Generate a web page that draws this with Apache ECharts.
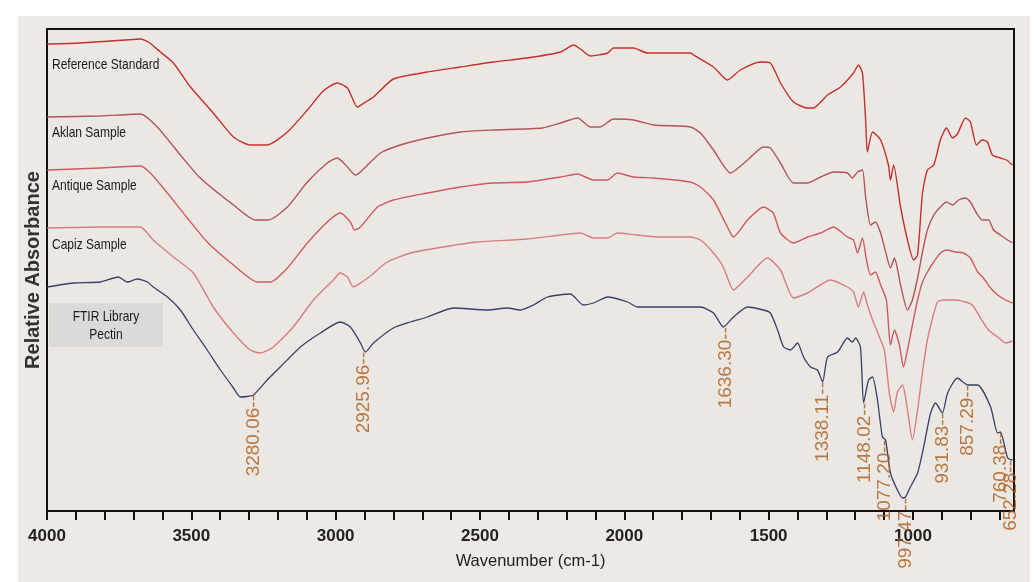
<!DOCTYPE html>
<html><head><meta charset="utf-8">
<script src="https://cdn.jsdelivr.net/npm/echarts@6/dist/echarts.min.js"></script>
<style>html,body{margin:0;padding:0;background:#fff}#c{width:1034px;height:582px}</style>
</head><body><div id="c"></div>
<script>
// FTIR spectra: [wavenumber cm-1, relative absorbance (arbitrary, stacked)]
const refStandard = [[3999,4.67],[3885,4.68],[3781,4.70],[3729,4.71],[3677,4.72],[3649,4.69],[3607,4.59],[3562,4.48],[3503,4.24],[3424,3.98],[3354,3.74],[3296,3.66],[3237,3.66],[3167,3.79],[3098,4.01],[3043,4.20],[2994,4.28],[2959,4.23],[2925,4.04],[2907,4.07],[2869,4.14],[2800,4.32],[2682,4.39],[2568,4.44],[2453,4.49],[2336,4.53],[2221,4.59],[2176,4.66],[2152,4.62],[2117,4.55],[2058,4.58],[2038,4.63],[1968,4.63],[1920,4.58],[1771,4.58],[1760,4.56],[1691,4.44],[1643,4.31],[1598,4.41],[1528,4.49],[1494,4.48],[1459,4.28],[1414,4.09],[1365,4.03],[1345,4.03],[1296,4.16],[1251,4.24],[1206,4.38],[1189,4.46],[1175,4.38],[1164,3.91],[1158,3.59],[1140,3.79],[1112,3.71],[1085,3.46],[1078,3.31],[1067,3.46],[1043,3.04],[1019,2.71],[998,2.51],[984,2.56],[967,3.18],[950,3.41],[928,3.46],[905,3.71],[884,3.83],[863,3.73],[846,3.77],[818,3.93],[801,3.89],[780,3.66],[760,3.71],[742,3.69],[725,3.56],[697,3.53],[676,3.51],[655,3.46]];
const aklanSample = [[3999,3.94],[3815,3.95],[3677,3.97],[3618,3.84],[3538,3.56],[3469,3.33],[3354,3.06],[3278,2.91],[3233,2.91],[3167,3.04],[3098,3.29],[3029,3.48],[2994,3.53],[2959,3.44],[2932,3.36],[2914,3.39],[2845,3.58],[2776,3.66],[2682,3.73],[2568,3.79],[2453,3.81],[2284,3.83],[2221,3.88],[2162,3.93],[2117,3.84],[2083,3.84],[2038,3.92],[1968,3.91],[1899,3.86],[1771,3.84],[1736,3.78],[1691,3.61],[1632,3.38],[1573,3.51],[1518,3.64],[1494,3.63],[1459,3.48],[1414,3.28],[1365,3.28],[1320,3.34],[1275,3.39],[1227,3.38],[1210,3.33],[1192,3.39],[1175,3.41],[1164,3.14],[1147,2.86],[1130,2.89],[1112,2.78],[1092,2.56],[1078,2.43],[1064,2.53],[1043,2.26],[1019,2.01],[1002,2.11],[984,2.33],[967,2.59],[950,2.81],[928,2.96],[905,3.04],[884,3.09],[863,3.06],[842,3.11],[818,3.13],[801,3.09],[780,2.98],[760,2.91],[738,2.91],[721,2.81],[697,2.76],[672,2.71],[655,2.68]];
const antiqueSample = [[3999,3.41],[3815,3.43],[3677,3.45],[3642,3.38],[3583,3.18],[3514,2.93],[3445,2.69],[3354,2.46],[3271,2.29],[3226,2.29],[3167,2.43],[3098,2.68],[3029,2.89],[2984,2.98],[2949,2.89],[2935,2.81],[2914,2.84],[2855,3.04],[2800,3.11],[2682,3.18],[2568,3.24],[2453,3.28],[2336,3.29],[2266,3.32],[2221,3.34],[2162,3.37],[2107,3.31],[2058,3.31],[2024,3.38],[1968,3.34],[1899,3.33],[1771,3.29],[1736,3.24],[1691,3.11],[1643,2.84],[1622,2.74],[1573,2.91],[1518,3.04],[1484,2.98],[1459,2.78],[1414,2.68],[1365,2.74],[1320,2.78],[1275,2.84],[1227,2.74],[1206,2.71],[1192,2.58],[1175,2.73],[1161,2.51],[1147,2.36],[1130,2.39],[1112,2.26],[1092,2.11],[1078,1.66],[1064,1.81],[1047,1.66],[1033,1.44],[1019,1.61],[1002,1.86],[984,2.11],[967,2.29],[950,2.39],[928,2.49],[905,2.58],[884,2.61],[853,2.59],[825,2.58],[801,2.53],[776,2.39],[756,2.33],[731,2.23],[707,2.16],[679,2.11],[655,2.08]];
const capizSample = [[3999,2.83],[3815,2.84],[3677,2.84],[3632,2.71],[3562,2.54],[3493,2.38],[3424,2.04],[3354,1.78],[3296,1.61],[3261,1.58],[3216,1.64],[3147,1.84],[3077,2.11],[3008,2.31],[2984,2.38],[2959,2.34],[2939,2.24],[2914,2.28],[2880,2.35],[2821,2.49],[2741,2.58],[2627,2.64],[2509,2.69],[2336,2.72],[2221,2.76],[2152,2.78],[2107,2.73],[2058,2.73],[2024,2.78],[1955,2.76],[1875,2.74],[1771,2.74],[1736,2.71],[1691,2.58],[1657,2.44],[1622,2.21],[1573,2.34],[1504,2.53],[1459,2.41],[1414,2.13],[1365,2.18],[1286,2.31],[1227,2.24],[1206,2.19],[1189,2.04],[1171,2.19],[1158,2.06],[1140,1.91],[1119,1.76],[1099,1.61],[1081,1.16],[1067,0.99],[1054,1.19],[1036,1.26],[1019,1.01],[1002,0.71],[984,1.01],[967,1.39],[950,1.71],[932,1.93],[915,2.09],[894,2.11],[853,2.11],[818,2.09],[794,2.06],[766,1.93],[738,1.81],[707,1.74],[679,1.68],[655,1.70]];
const libraryPectin = [[3999,2.24],[3909,2.28],[3815,2.29],[3753,2.34],[3722,2.29],[3687,2.32],[3652,2.29],[3632,2.24],[3583,2.14],[3538,2.01],[3493,1.81],[3445,1.61],[3399,1.41],[3354,1.23],[3330,1.14],[3285,1.16],[3237,1.31],[3192,1.44],[3122,1.64],[3053,1.78],[2984,1.89],[2949,1.84],[2914,1.68],[2897,1.59],[2869,1.68],[2800,1.83],[2741,1.89],[2682,1.94],[2592,2.03],[2474,2.01],[2405,2.03],[2360,2.01],[2315,2.06],[2266,2.14],[2187,2.17],[2142,2.06],[2107,2.08],[2058,2.14],[1989,2.09],[1955,2.04],[1771,2.04],[1736,2.04],[1691,1.98],[1657,1.84],[1622,1.94],[1573,2.04],[1518,2.01],[1494,1.98],[1469,1.81],[1448,1.64],[1424,1.61],[1400,1.68],[1379,1.54],[1355,1.44],[1331,1.41],[1313,1.29],[1296,1.54],[1261,1.59],[1227,1.73],[1210,1.69],[1199,1.73],[1182,1.64],[1171,1.08],[1154,1.31],[1140,1.34],[1123,1.11],[1106,0.74],[1095,0.71],[1078,0.38],[1054,0.21],[1036,0.13],[1026,0.14],[1009,0.24],[984,0.38],[963,0.64],[939,0.98],[922,1.08],[898,0.98],[880,1.18],[846,1.33],[811,1.26],[776,1.26],[731,1.04],[707,0.78],[697,0.79],[672,0.53],[655,0.51]];

const peakText = ['3280.06','2925.96','1636.30','1338.11','1148.02','1077.20','997.47','931.83','857.29','760.38','652.28'];
const peakWn   = [3285, 2904, 1650, 1313, 1168, 1099, 1026, 898, 811, 697, 662];
const peakVal  = [1.16, 1.59, 1.84, 1.29, 1.08, 0.71, 0.13, 0.98, 1.26, 0.79, 0.51];

const seriesNames = ['Reference Standard','Aklan Sample','Antique Sample','Capiz Sample','FTIR Library Pectin'];
const seriesData = [refStandard, aklanSample, antiqueSample, capizSample, libraryPectin];
const seriesColors = ['#c62f2c','#b3535a','#cf5a5e','#d77d82','#3a3f6a'];

const majorTicks = [4000,3500,3000,2500,2000,1500,1000];
const minorTicks = [];
for (let w = 4000; w >= 700; w -= 100) minorTicks.push(w);

const SANS = "'Liberation Sans',Arial,sans-serif";

const chart = echarts.init(document.getElementById('c'), null, {renderer:'canvas'});
const series = seriesData.map((d,i)=>({
  name: seriesNames[i], type:'line', data:d, showSymbol:false, symbol:'none', smooth:0.2,
  lineStyle:{color:seriesColors[i], width: i===4?1.3:1.4}, z:3, animation:false
}));
series.push({
  type:'scatter', symbolSize:0, z:5, animation:false,
  data: peakWn.map((w,i)=>[w, peakVal[i], peakText[i]]),
  label:{show:true, position:'inside', rotate:90, align:'right', verticalAlign:'middle',
    formatter:p=>p.data[2]+'--', color:'#ab5a17', fontSize:19, fontFamily:SANS}
});

function sampleLabel(text, y){
  return {type:'text', z:10, x:52, y:y, scaleX:0.8,
    style:{text:text, fontSize:15, fontFamily:SANS, fill:'#1a1a1a', verticalAlign:'middle'}};
}

chart.setOption({
  animation:false,
  backgroundColor:'#ffffff',
  graphic:[
    {type:'rect', z:-10, shape:{x:18,y:16,width:1012,height:566}, style:{fill:'#ece9e6'}},
    sampleLabel('Reference Standard', 65),
    sampleLabel('Aklan Sample', 133),
    sampleLabel('Antique Sample', 186),
    sampleLabel('Capiz Sample', 245),
    {type:'rect', z:9, shape:{x:49,y:303,width:114,height:44}, style:{fill:'#dcdad8'}},
    {type:'text', z:10, x:106, y:326, scaleX:0.8, style:{text:'FTIR Library\nPectin', align:'center', verticalAlign:'middle', lineHeight:18, fontSize:15, fontFamily:SANS, fill:'#1a1a1a'}}
  ],
  grid:{left:47, right:20, top:29, bottom:71, show:true, backgroundColor:'#ebe8e4', borderColor:'#111', borderWidth:2},
  xAxis:{
    type:'value', inverse:true, min:650, max:4000,
    name:'Wavenumber (cm-1)', nameLocation:'middle', nameGap:42,
    nameTextStyle:{fontSize:16.5, fontFamily:SANS, color:'#222'},
    axisLine:{show:true, lineStyle:{color:'#111', width:2}},
    axisTick:{show:true, inside:false, length:9, customValues:minorTicks, lineStyle:{color:'#111', width:2}},
    axisLabel:{customValues:majorTicks, formatter:v=>String(v), fontSize:17, fontWeight:'bold', fontFamily:SANS, color:'#222', margin:17},
    splitLine:{show:false}
  },
  yAxis:{
    type:'value', min:0, max:4.82,
    name:'Relative Absorbance', nameLocation:'middle', nameGap:4, nameRotate:90,
    nameTextStyle:{fontSize:20, fontWeight:'bold', fontFamily:SANS, color:'#333'},
    axisLine:{show:true, lineStyle:{color:'#111', width:2}},
    axisTick:{show:false}, axisLabel:{show:false}, splitLine:{show:false}
  },
  series
});
</script></body></html>
